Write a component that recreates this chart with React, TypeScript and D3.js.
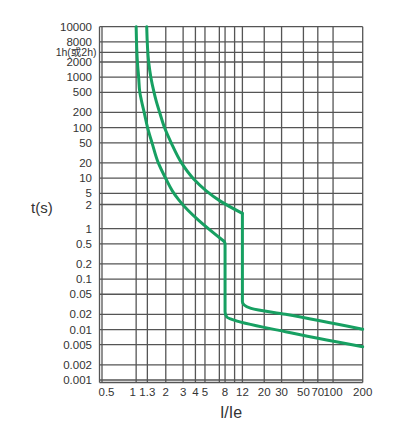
import React from 'react'
import * as d3 from 'd3'

// vertical grid lines (I/Ie) and the labels under the axis
const xGridValues = [1, 1.3, 2, 3, 4, 5, 7, 8, 10, 12, 20, 30, 50, 70, 100, 200]
const xTickValues = [0.5, 1, 1.3, 2, 3, 4, 5, 8, 12, 20, 30, 50, 70, 100, 200]
const xTickLabels = ['0.5', '1', '1.3', '2', '3', '4', '5', '8', '12', '20', '30', '50', '70', '100', '200']

// horizontal grid lines (t in s); labels as printed on the original sheet
const yTickValues = [10000, 5000, 3100, 2000, 1000, 500, 200, 100, 50, 20, 10, 5, 3, 1, 0.5, 0.2, 0.1, 0.05, 0.02, 0.01, 0.005, 0.002, 0.001]
const yTickLabels = ['10000', '8000', '1h(或2h)', '2000', '1000', '500', '200', '100', '50', '20', '10', '5', '2', '1', '0.5', '0.2', '0.1', '0.05', '0.02', '0.01', '0.005', '0.002', '0.001']

// lower (fast) curve: [I/Ie, t], split at the sharp knee
const curveLowTop: [number, number][] = [
    [1.0, 10000], [1.03, 2000], [1.06, 1000], [1.09, 500], [1.13, 350], [1.21, 195], [1.31, 98], [1.45, 50],
    [1.68, 20], [2.01, 9.6], [2.33, 5.6], [2.71, 3.7], [7.8, 0.56]
]
const curveLowBottom: [number, number][] = [
    [7.8, 0.56], [8, 0.5], [8, 0.0225], [8.32, 0.0177], [9.37, 0.0159], [32.9, 0.00905], [200, 0.00457]
]

// upper (slow) curve
const curveHighTop: [number, number][] = [
    [1.28, 10000], [1.34, 2000], [1.41, 1000], [1.52, 500], [1.59, 350], [1.74, 195], [1.95, 98], [2.27, 50],
    [2.89, 20], [3.84, 9.6], [5.15, 5.6], [7.16, 3.5], [12, 2.0]
]
const curveHighBottom: [number, number][] = [
    [12, 2.0], [12, 0.0356], [12.5, 0.0306], [14.7, 0.0263], [32.9, 0.02], [200, 0.0101]
]

const FONT = '"Liberation Sans", Arial, "Noto Sans CJK SC", sans-serif'
const GRID = '#555'
const GREEN = '#17a062'
const TEXT = '#333'

export default function App() {
    const width = 397
    const height = 430

    const x = d3.scaleLog().domain([0.45, 200]).range([102, 362.7])
    const y = d3.scaleLog().domain([10000, 0.001]).range([26.7, 380])

    const [x0, x1] = x.range()
    const [y0, y1] = y.range()

    const line = d3
        .line<[number, number]>()
        .x((d) => x(d[0]))
        .y((d) => y(d[1]))
        .curve(d3.curveMonotoneY)

    const curves = [curveLowTop, curveLowBottom, curveHighTop, curveHighBottom]

    return (
        <svg
            width={width}
            height={height}
            style={{ position: 'absolute', left: 0, top: 0, background: '#fff' }}
            fontFamily={FONT}
        >
            {/* horizontal grid */}
            {yTickValues.map((v, i) => (
                <line key={'hy' + i} x1={x0 - 2.5} x2={x1} y1={y(v)} y2={y(v)} stroke={GRID} strokeWidth={1.3} />
            ))}
            {/* vertical grid */}
            {xGridValues.map((v, i) => (
                <line key={'vx' + i} x1={x(v)} x2={x(v)} y1={y0} y2={y1 + 2.5} stroke={GRID} strokeWidth={1.3} />
            ))}
            {/* frame, doubled on left and bottom */}
            <line x1={x0} x2={x0} y1={y0} y2={y1 + 2.5} stroke={GRID} strokeWidth={1.3} />
            <line x1={x0 - 2.5} x2={x0 - 2.5} y1={y0} y2={y1 + 2.5} stroke={GRID} strokeWidth={1.3} />
            <line x1={x0 - 2.5} x2={x1} y1={y1 + 2.5} y2={y1 + 2.5} stroke={GRID} strokeWidth={1.3} />

            {/* y labels */}
            {yTickValues.map((v, i) => (
                <text
                    key={'ly' + i}
                    x={i === 2 ? 96.5 : 92}
                    y={y(v)}
                    dy="0.35em"
                    textAnchor="end"
                    fontSize={i === 2 ? 10.5 : 11.5}
                    fill={TEXT}
                >
                    {yTickLabels[i]}
                </text>
            ))}

            {/* x labels */}
            {xTickValues.map((v, i) => (
                <text
                    key={'lx' + i}
                    x={x(v) + (v === 1 ? -3.5 : 0)}
                    y={396}
                    textAnchor="middle"
                    fontSize={11.5}
                    fill={TEXT}
                >
                    {xTickLabels[i]}
                </text>
            ))}

            {/* curves */}
            {curves.map((c, i) => (
                <path
                    key={'c' + i}
                    d={line(c) ?? ''}
                    fill="none"
                    stroke={GREEN}
                    strokeWidth={3}
                    strokeLinejoin="round"
                    strokeLinecap="round"
                />
            ))}

            {/* axis titles */}
            <text x={31} y={213} fontSize={15} fill={TEXT}>
                t(s)
            </text>
            <text x={231} y={418} textAnchor="middle" fontSize={16} fill={TEXT}>
                I/Ie
            </text>
        </svg>
    )
}
